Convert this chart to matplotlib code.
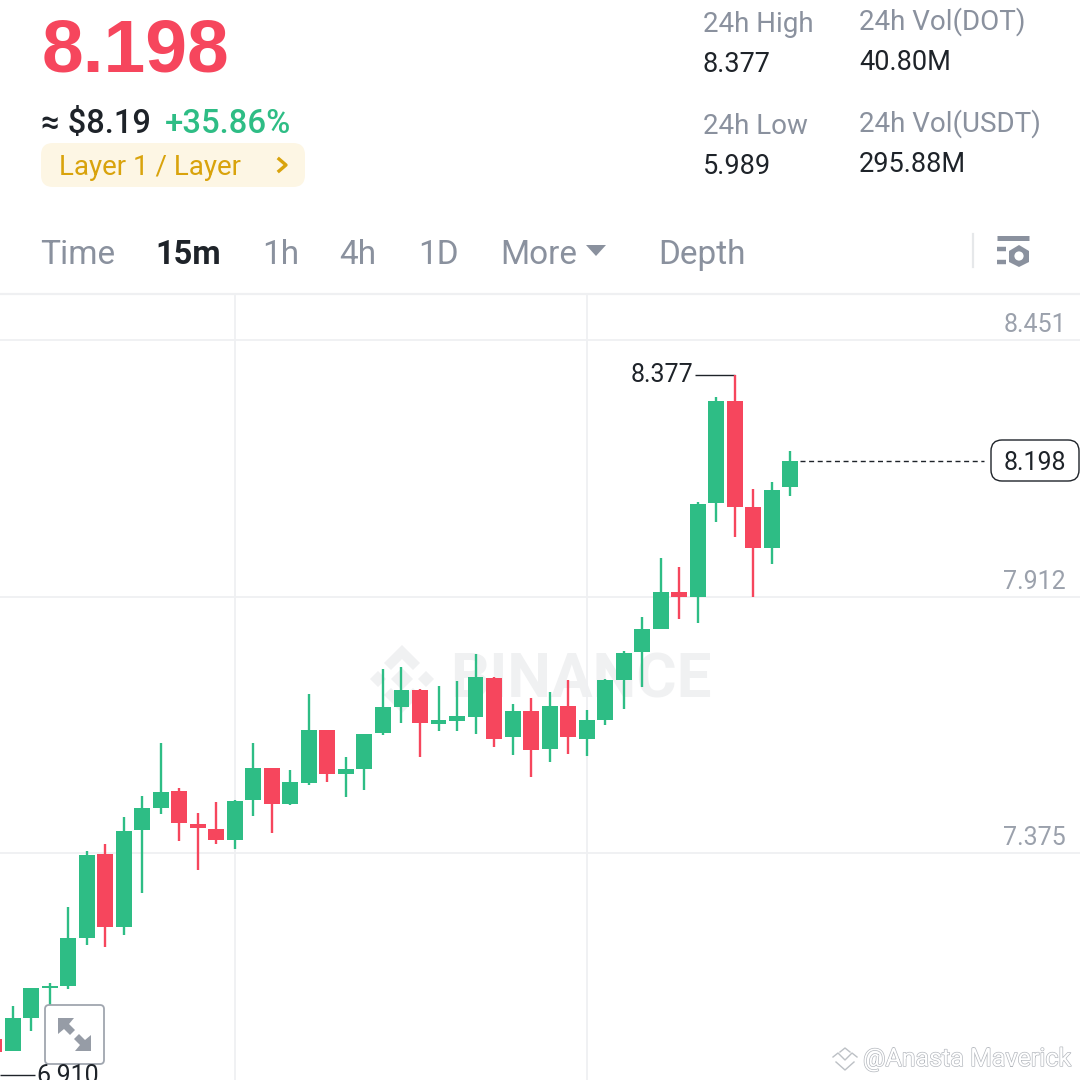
import matplotlib
matplotlib.use("Agg")
import matplotlib.pyplot as plt
import matplotlib.patheffects as pe
from matplotlib.patches import FancyBboxPatch, Polygon, Circle

# =========================
# Data
# =========================
idx = list(range(-1, 43))
opens = [6.985, 6.960, 7.030, 7.092, 7.096, 7.197, 7.373, 7.220, 7.423, 7.469, 7.505, 7.436, 7.425, 7.403,
         7.486, 7.553, 7.478, 7.522, 7.634, 7.541, 7.551, 7.626, 7.681, 7.717, 7.646, 7.652, 7.661, 7.743,
         7.618, 7.672, 7.594, 7.684, 7.614, 7.655, 7.738, 7.797, 7.845, 7.922, 7.913, 8.109, 8.323, 8.101,
         8.014, 8.143]
closes = [6.958, 7.028, 7.091, 7.097, 7.197, 7.371, 7.220, 7.421, 7.469, 7.504, 7.438, 7.428, 7.403, 7.484,
          7.553, 7.478, 7.523, 7.634, 7.541, 7.552, 7.625, 7.681, 7.718, 7.647, 7.654, 7.662, 7.744, 7.614,
          7.673, 7.592, 7.684, 7.618, 7.655, 7.738, 7.794, 7.844, 7.922, 7.913, 8.108, 8.323, 8.101, 8.014,
          8.136, 8.198]
highs = [6.985, 7.054, 7.091, 7.103, 7.261, 7.380, 7.395, 7.450, 7.495, 7.606, 7.512, 7.460, 7.483, 7.486,
         7.606, 7.553, 7.549, 7.708, 7.634, 7.576, 7.625, 7.762, 7.765, 7.720, 7.725, 7.736, 7.792, 7.744,
         7.687, 7.700, 7.713, 7.738, 7.676, 7.741, 7.798, 7.871, 7.993, 7.975, 8.111, 8.332, 8.377, 8.138,
         8.153, 8.219]
lows = [6.958, 6.959, 7.002, 7.056, 7.090, 7.182, 7.177, 7.204, 7.292, 7.457, 7.401, 7.339, 7.393, 7.384,
        7.453, 7.417, 7.476, 7.517, 7.525, 7.492, 7.508, 7.622, 7.647, 7.577, 7.631, 7.632, 7.625, 7.597,
        7.581, 7.534, 7.565, 7.583, 7.579, 7.643, 7.678, 7.724, 7.844, 7.866, 7.857, 8.070, 8.037, 7.913,
        7.982, 8.124]

price_ticks = [8.451, 7.912, 7.375]
grid_idx = [12, 31]
last_price = 8.198
high_price = 8.377
low_price = 6.910

stats = [("24h High", "8.377"), ("24h Low", "5.989"), ("24h Vol(DOT)", "40.80M"), ("24h Vol(USDT)", "295.88M")]
tabs = ["Time", "15m", "1h", "4h", "1D", "More", "Depth"]

GREEN = "#2ebd85"
RED = "#f6465d"
DARK = "#1e2329"
GRAY = "#8a919e"
GRID = "#eff0f2"

plt.rcParams["font.family"] = ["Roboto", "DejaVu Sans"]

fig = plt.figure(figsize=(10.8, 10.8), dpi=100, facecolor="white")

# pixel layers, one under the candles and one over them
bg = fig.add_axes([0, 0, 1, 1], zorder=0)
fg = fig.add_axes([0, 0, 1, 1], zorder=2, facecolor="none")
for a in (bg, fg):
    a.set_xlim(0, 1080)
    a.set_ylim(1080, 0)
    a.axis("off")

# =========================
# Candles
# =========================
ax = fig.add_axes([0, 0, 1, 785 / 1080], zorder=1, facecolor="none")
ax.set_xlim(-0.686, 57.65)
ax.set_ylim(6.899, 8.5454)
ax.set_xticks(grid_idx)
ax.set_yticks(price_ticks)
ax.grid(True, color=GRID, lw=1.3)
ax.set_axisbelow(True)
ax.tick_params(length=0, labelbottom=False, labelleft=False)
for s in ax.spines.values():
    s.set_visible(False)

for i, o, c, h, l in zip(idx, opens, closes, highs, lows):
    col = GREEN if c >= o else RED
    ax.vlines(i, l, h, color=col, lw=1.7, zorder=3)
    ax.bar(i, abs(c - o), bottom=min(o, c), width=0.86, color=col, zorder=4)

ax.hlines(last_price, 42.5, 52.45, color=DARK, lw=1.0, linestyles=(0, (3.6, 2.6)), zorder=2)
ax.hlines(high_price, 36.85, 39, color=DARK, lw=1.0, zorder=2)
ax.hlines(low_price, -0.686, 1.2, color=DARK, lw=1.0, zorder=2)

for p, y in zip(price_ticks, [332, 589, 845]):
    fg.text(1066, y, f"{p:.3f}", color=GRAY, fontsize=18, ha="right", va="baseline", alpha=0.85)
fg.text(693, 382, f"{high_price:.3f}", color=DARK, fontsize=18, ha="right", va="baseline")
fg.text(36, 1083, f"{low_price:.3f}", color=DARK, fontsize=18, ha="left", va="baseline")

fg.add_patch(FancyBboxPatch((991, 440), 88, 41, boxstyle="round,pad=0,rounding_size=11", fc="white", ec=DARK, lw=1.0))
fg.text(1035, 470, f"{last_price:.3f}", color=DARK, fontsize=18, ha="center", va="baseline")

# =========================
# BINANCE watermark
# =========================
WM = "#f0f1f2"
cx, cy = 402, 679
for dx, dy, r in [(0, 0, 11), (-24, 0, 8), (24, 0, 8)]:
    bg.add_patch(Polygon([(cx + dx - r, cy + dy), (cx + dx, cy + dy - r), (cx + dx + r, cy + dy), (cx + dx, cy + dy + r)],
                         fc=WM, ec="none"))
bg.add_patch(Polygon([(cx - 18, cy - 16), (cx, cy - 34), (cx + 18, cy - 16), (cx + 11, cy - 9), (cx, cy - 20), (cx - 11, cy - 9)], fc=WM, ec="none"))
bg.add_patch(Polygon([(cx - 18, cy + 16), (cx, cy + 34), (cx + 18, cy + 16), (cx + 11, cy + 9), (cx, cy + 20), (cx - 11, cy + 9)], fc=WM, ec="none"))
bg.text(450, 698, "BINANCE", color=WM, fontsize=44.5, fontweight="bold", ha="left", va="baseline")

# =========================
# Header
# =========================
fg.text(42, 71, "8.198", color=RED, fontsize=54, fontweight="bold", family=["Liberation Sans"], ha="left", va="baseline")
fg.text(41, 133, "≈ $8.19", color=DARK, fontsize=23.5, fontweight="medium", ha="left", va="baseline")
fg.text(165, 133, "+35.86%", color=GREEN, fontsize=23.7, fontweight="medium", ha="left", va="baseline")

fg.add_patch(FancyBboxPatch((41, 143), 264, 44, boxstyle="round,pad=0,rounding_size=12", fc="#fdf6e4", ec="none"))
fg.text(59, 175, "Layer 1 / Layer", color="#d9a30c", fontsize=20, ha="left", va="baseline")
fg.plot([279, 286, 279], [159, 165, 171], color="#d9a30c", lw=2.4)

for (lab, val), x, y in zip(stats, [703, 703, 859, 859], [32, 134, 30, 132]):
    fg.text(x, y, lab, color=GRAY, fontsize=20, ha="left", va="baseline")
    fg.text(x, y + 40, val, color=DARK, fontsize=19.5, ha="left", va="baseline")

# =========================
# Tabs
# =========================
for t, x in zip(tabs, [40, 155, 262, 339, 418, 500, 658]):
    bold = t == "15m"
    fg.text(x, 264, t, color=DARK if bold else GRAY, fontsize=24 if not bold else 23.5,
            fontweight="bold" if bold else "normal", ha="left", va="baseline")
fg.add_patch(Polygon([(586, 245), (606, 245), (596, 256)], fc=GRAY, ec="none"))

# settings icon next to Depth
fg.plot([972.5, 972.5], [234, 267], color="#e6e8ea", lw=1.6)
fg.plot([997, 1029], [237.5, 237.5], color=GRAY, lw=3.6, solid_capstyle="butt")
fg.plot([997, 1006], [249, 249], color=GRAY, lw=3.2, solid_capstyle="butt")
fg.plot([997, 1006], [262, 262], color=GRAY, lw=3.2, solid_capstyle="butt")
fg.add_patch(Polygon([(1019, 245), (1029, 251), (1029, 262), (1019, 267), (1009, 262), (1009, 251)], fc=GRAY, ec="none"))
fg.add_patch(Circle((1019, 256), 4.6, fc="white", ec="none"))
bg.plot([0, 1080], [294, 294], color=GRID, lw=1.6)

# =========================
# Expand button
# =========================
fg.add_patch(FancyBboxPatch((45, 1005), 59, 59, boxstyle="round,pad=0,rounding_size=4", fc="white", ec="#a0a6af", lw=1.3))
fg.add_patch(Polygon([(58, 1018), (74, 1018), (69, 1024), (75, 1030), (70, 1035), (64, 1029), (58, 1034)], fc="#969ca6", ec="none"))
fg.add_patch(Polygon([(91, 1051), (75, 1051), (80, 1045), (74, 1039), (79, 1034), (85, 1040), (91, 1035)], fc="#969ca6", ec="none"))

# =========================
# Corner credit, outlined like an embossed stamp
# =========================
credit = fg.text(863, 1066, "@Anasta Maverick", color="white", fontsize=18, ha="left", va="baseline")
credit.set_path_effects([pe.withStroke(linewidth=1.0, foreground="#b4b8be")])
fg.plot([833, 838, 845, 852, 857], [1057, 1053, 1060, 1053, 1057], color="#bcc0c5", lw=1.0)
fg.plot([840, 845, 850], [1052, 1048, 1052], color="#bcc0c5", lw=1.0)
fg.plot([836, 845, 854], [1062, 1070, 1062], color="#bcc0c5", lw=1.0)

fig.savefig("out.png", dpi=100, facecolor="white")
plt.close(fig)
